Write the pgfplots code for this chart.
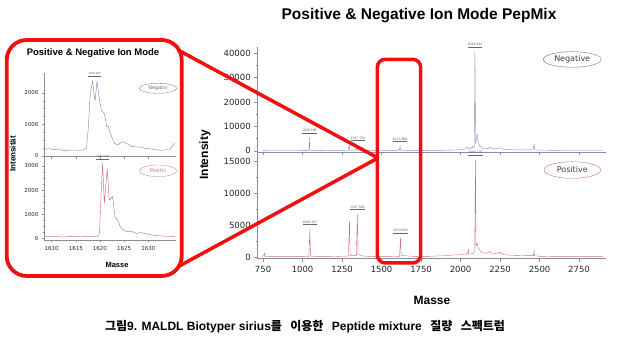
\documentclass[border=0pt]{standalone}
\usepackage{pgfplots}
\pgfplotsset{compat=1.18}
\usepackage{fontspec}
\setmainfont{Liberation Sans}
\newfontfamily\dejavu{DejaVu Sans}
\newfontfamily\cjk{Noto Sans CJK KR}
\definecolor{negc}{HTML}{8A8AB8}
\definecolor{posc}{HTML}{C8707C}
\definecolor{redc}{HTML}{F01010}
\definecolor{axc}{HTML}{8C8C9C}
\pgfplotsset{
  spec/.style={scale only axis, anchor=south west,
    axis x line=bottom, axis y line=left,
    axis line style={-, axc, line width=0.6pt},
    every outer x axis line/.append style={-},
    every outer y axis line/.append style={-},
    tick style={axc, line width=0.5pt},
    tick align=outside, major tick length=3.5pt, minor tick length=2pt,
    /pgf/number format/assume math mode=true,
    /pgf/number format/set thousands separator={},
    scaled ticks=false, clip mode=individual},
  mainfont/.style={tick label style={font=\dejavu\fontsize{8.5}{9}\selectfont, text=black!85}},
  insfont/.style={tick label style={font=\dejavu\fontsize{5.5}{6}\selectfont, text=black!85},
    major tick length=2.5pt, minor tick length=1.5pt}
}
\tikzset{pk/.style={font=\fontsize{3.5}{4}\selectfont, text=black!60, anchor=south, yshift=0.5pt}}
\begin{document}
\begin{tikzpicture}
\useasboundingbox (0pt,0pt) rectangle (621pt,363pt);
% ---------- main top (negative)
\begin{axis}[spec, mainfont, at={(257.7pt,211pt)}, width=347.9pt, height=105.3pt,
  xmin=716, xmax=2918, ymin=-500, ymax=42700,
  ytick={0,10000,20000,30000,40000}, minor y tick num=1,
  xtick={750,1000,...,2750}, xticklabels=\empty, x axis line style={negc}]
\addplot[negc, line width=0.4pt, line join=round] coordinates {(750,150)(800,120)(850,100)(900,130)(950,110)(1000,150)(1030,180)(1040,250)(1043,5500)(1046,250)(1060,180)(1100,150)(1150,130)(1200,150)(1250,150)(1290,250)(1296,2300)(1299,300)(1320,250)(1340,300)(1343,1500)(1346,300)(1380,200)(1400,150)(1450,150)(1500,130)(1550,150)(1600,200)(1605,500)(1608,200)(1614,300)(1617,1900)(1620,300)(1650,200)(1700,150)(1750,150)(1800,150)(1850,180)(1900,200)(1950,300)(2000,400)(2020,600)(2035,900)(2045,1600)(2050,700)(2065,1000)(2075,1800)(2082,1200)(2088,1500)(2091,40600)(2095,3000)(2100,5000)(2105,7000)(2110,4000)(2120,2000)(2135,1200)(2150,900)(2175,1000)(2190,1500)(2200,800)(2230,900)(2250,1200)(2270,700)(2300,500)(2350,400)(2400,350)(2440,400)(2460,600)(2465,2750)(2470,400)(2500,250)(2600,150)(2700,100)(2800,100)(2900,100)};
\node[pk] at (axis cs:1043,5500) {\underline{1046.599}};
\node[pk] at (axis cs:1350,2300) {\underline{1347.754}};
\node[pk] at (axis cs:1617,1900) {\underline{1617.889}};
\node[pk] at (axis cs:2091,40600) {\underline{2093.442}};
\end{axis}
% ---------- main bottom (positive)
\begin{axis}[spec, mainfont, at={(257.7pt,104.3pt)}, width=347.9pt, height=106.7pt,
  xmin=716, xmax=2918, ymin=-218, ymax=16400,
  ytick={0,5000,10000,15000}, minor y tick num=1,
  xtick={750,1000,...,2750}]
\addplot[posc, line width=0.4pt, line join=round] coordinates {(750,150)(755,300)(758,700)(762,150)(800,100)(900,100)(1000,100)(1040,150)(1046,4360)(1050,200)(1100,100)(1200,120)(1290,200)(1297,5700)(1301,300)(1310,250)(1340,250)(1347,6700)(1351,400)(1365,350)(1380,200)(1450,100)(1550,100)(1614,150)(1620,3050)(1624,300)(1640,250)(1700,150)(1800,150)(1900,250)(1950,350)(2000,400)(2030,500)(2045,600)(2049,1250)(2053,500)(2080,600)(2090,900)(2094,15150)(2098,1800)(2105,2200)(2112,1500)(2130,800)(2160,600)(2190,900)(2195,500)(2230,600)(2250,800)(2270,400)(2350,300)(2440,250)(2462,250)(2465,1140)(2468,250)(2500,150)(2600,100)(2900,100)};
\node[pk] at (axis cs:1046,4360) {\underline{1046.437}};
\node[pk] at (axis cs:1347,6700) {\underline{1347.560}};
\node[pk] at (axis cs:1620,3050) {\underline{1619.852}};
\node[pk] at (axis cs:2094,15150) {\underline{2094.101}};
\end{axis}
% ---------- inset top (negative)
\begin{axis}[spec, insfont, at={(44.3pt,206.4pt)}, width=131.2pt, height=83.2pt,
  xmin=1608.5, xmax=1635.6, ymin=-20, ymax=2622,
  ytick={0,1000,2000}, minor y tick num=3,
  xtick={1610,1615,...,1630}, xticklabels=\empty]
\addplot[negc, line width=0.45pt, line join=round] coordinates {(1608.5,210)(1609.5,230)(1610.5,200)(1611.5,220)(1612.5,170)(1613.5,180)(1614.5,190)(1615.5,180)(1616.5,190)(1617.2,250)(1617.6,900)(1618.0,2000)(1618.5,2390)(1618.8,1900)(1619.0,1760)(1619.4,2390)(1619.7,2000)(1620.0,1700)(1620.3,1450)(1620.7,1390)(1621.0,1300)(1621.4,920)(1621.7,960)(1622.0,800)(1622.4,610)(1623.0,400)(1623.7,350)(1624.3,420)(1624.8,450)(1625.5,400)(1626.5,300)(1627.5,290)(1628.5,280)(1629.5,240)(1630.5,220)(1631.5,200)(1632.5,180)(1633.5,190)(1634.5,230)(1635.5,420)};
\node[pk, font=\fontsize{3}{3.5}\selectfont] at (axis cs:1618.9,2390) {\underline{1618.995}};
\end{axis}
% ---------- inset bottom (positive)
\begin{axis}[spec, insfont, at={(44.3pt,123pt)}, width=131.2pt, height=83.4pt,
  xmin=1608.5, xmax=1635.6, ymin=-53, ymax=3379,
  ytick={0,1000,2000,3000}, minor y tick num=3,
  xtick={1610,1615,...,1630}, minor x tick num=4]
\addplot[posc, line width=0.45pt, line join=round] coordinates {(1608.5,80)(1610,100)(1612,70)(1614,90)(1616,80)(1618,90)(1619.5,100)(1619.9,200)(1620.2,1700)(1620.55,3100)(1620.9,1450)(1621.5,2890)(1621.9,1590)(1622.6,1730)(1623.1,900)(1623.7,770)(1624.2,490)(1624.8,360)(1625.5,290)(1626.5,300)(1627.5,220)(1628.5,250)(1630,180)(1632,120)(1634,100)(1635.5,80)};
\node[pk, font=\fontsize{3}{3.5}\selectfont] at (axis cs:1620.55,3100) {\underline{1620.010}};
\end{axis}
% ---------- annotations
\begin{scope}[x=1pt,y=1pt]
\node[font=\bfseries\fontsize{15.5}{17}\selectfont] at (419,347) {Positive \& Negative Ion Mode PepMix};
\node[font=\bfseries\fontsize{9.5}{11}\selectfont] at (93,310) {Positive \& Negative Ion Mode};
\node[font=\bfseries\fontsize{8}{9}\selectfont, rotate=90] at (12.7,209) {Intensität};
\node[font=\bfseries\fontsize{7.5}{9}\selectfont] at (117,98) {Masse};
\node[font=\bfseries\fontsize{12}{14}\selectfont, rotate=90] at (205,208) {Intensity};
\node[font=\bfseries\fontsize{12}{14}\selectfont] at (432,62.3) {Masse};
% ellipses
\draw[negc!80!black, line width=0.4pt] (572.2,303.5) ellipse [x radius=29, y radius=7.8];
\node[font=\dejavu\fontsize{8}{9}\selectfont, text=black!75] at (572.2,303.5) {Negative};
\draw[posc, line width=0.4pt] (572.3,193) ellipse [x radius=28.3, y radius=8.3];
\node[font=\dejavu\fontsize{8}{9}\selectfont, text=black!75] at (572.3,193) {Positive};
\draw[negc!80!black, line width=0.3pt] (158,274.7) ellipse [x radius=18.7, y radius=5];
\node[font=\dejavu\fontsize{5}{6}\selectfont, text=negc!80!black] at (158,274.7) {Negativ};
\draw[posc, line width=0.3pt] (158,192.2) ellipse [x radius=18.5, y radius=5.8];
\node[font=\dejavu\fontsize{5}{6}\selectfont, text=posc] at (158,192.2) {Positiv};
% red highlights
\draw[redc, line width=3.8pt, rounded corners=20pt] (6.7,87) rectangle (181.7,323);
\draw[redc, line width=3.5pt, rounded corners=8pt] (377.3,100) rectangle (420.7,303.7);
\draw[redc, line width=3.5pt] (178,313) -- (378,205);
\draw[redc, line width=3.5pt] (178,96.3) -- (378,205);
% caption
\node[font=\bfseries\fontsize{12}{14}\selectfont] at (305,36) {{\cjk 그림}9. MALDL Biotyper sirius{\cjk 를}\hspace{0.7em}{\cjk 이용한}\hspace{0.7em}Peptide mixture\hspace{0.7em}{\cjk 질량}\hspace{0.7em}{\cjk 스펙트럼}};
\end{scope}
\end{tikzpicture}
\end{document}
